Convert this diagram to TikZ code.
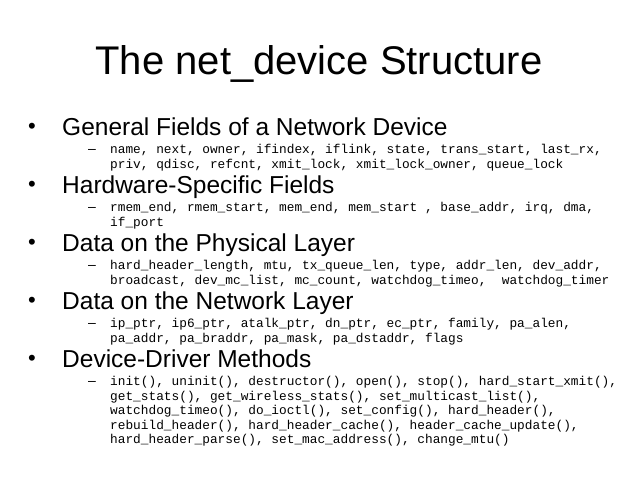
\documentclass[tikz,border=0pt]{standalone}
\usepackage{fontspec}
\setmainfont{Liberation Sans}
\newfontfamily\codefont{Liberation Mono}
\begin{document}
\begin{tikzpicture}[x=1pt,y=-1pt,
  ttl/.style={anchor=base,font=\fontsize{40}{44}\selectfont,inner sep=0},
  bul/.style={anchor=base west,font=\fontsize{24.5}{27}\selectfont,inner sep=0},
  sub/.style={anchor=north west,font=\codefont\fontsize{12.8}{14.5}\selectfont,inner sep=0,align=left},
  dot/.style={anchor=base west,font=\fontsize{22}{24}\selectfont,inner sep=0},
  dsh/.style={anchor=base west,font=\fontsize{14}{15}\selectfont,inner sep=0}]
\useasboundingbox (0,0) rectangle (638,478);
\node[ttl] (t) at (319,75) {The net\_device Structure};
\def\item#1#2#3#4{%
  \node[dot] (d#1) at (28,#2-2) {•};
  \node[bul] (b#1) at (62,#2) {#3};
  \node[dsh] (s#1) at (88,#2+18) {–};
  \node[sub] (c#1) at (110,#2+8.5) {#4};}
\item{1}{136}{General Fields of a Network Device}{name, next, owner, ifindex, iflink, state, trans\_start, last\_rx,\\priv, qdisc, refcnt, xmit\_lock, xmit\_lock\_owner, queue\_lock}
\item{2}{194}{Hardware-Specific Fields}{rmem\_end, rmem\_start, mem\_end, mem\_start , base\_addr, irq, dma,\\if\_port}
\item{3}{252}{Data on the Physical Layer}{hard\_header\_length, mtu, tx\_queue\_len, type, addr\_len, dev\_addr,\\broadcast, dev\_mc\_list, mc\_count, watchdog\_timeo,~~watchdog\_timer}
\item{4}{310}{Data on the Network Layer}{ip\_ptr, ip6\_ptr, atalk\_ptr, dn\_ptr, ec\_ptr, family, pa\_alen,\\pa\_addr, pa\_braddr, pa\_mask, pa\_dstaddr, flags}
\item{5}{368}{Device-Driver Methods}{init(), uninit(), destructor(), open(), stop(), hard\_start\_xmit(),\\get\_stats(), get\_wireless\_stats(), set\_multicast\_list(),\\watchdog\_timeo(), do\_ioctl(), set\_config(), hard\_header(),\\rebuild\_header(), hard\_header\_cache(), header\_cache\_update(),\\hard\_header\_parse(), set\_mac\_address(), change\_mtu()}
\end{tikzpicture}
\end{document}
